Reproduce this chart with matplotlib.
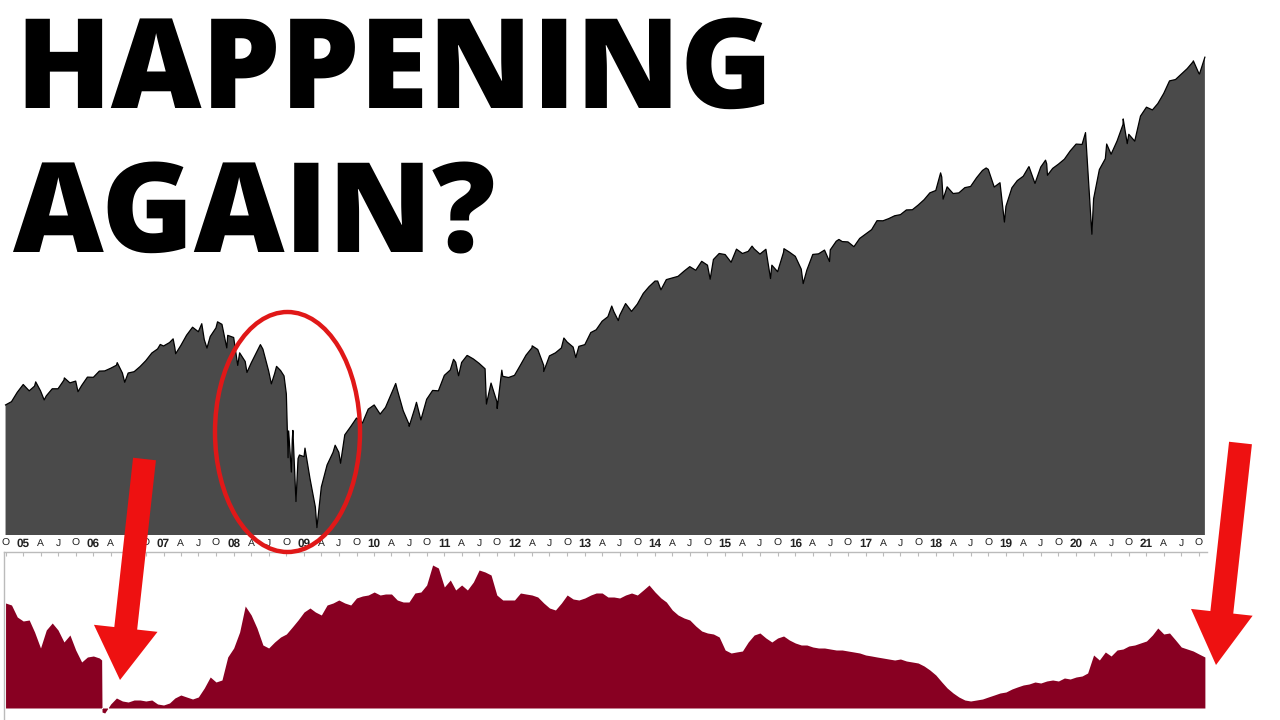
import matplotlib
matplotlib.use("Agg")
import matplotlib.pyplot as plt
from matplotlib.patches import Ellipse, FancyArrow
import pandas as pd

plt.rcParams["text.hinting"] = "no_hinting"

# S&P 500 level at the start of each month, Oct 2004 .. Nov 2021
spx_start = "2004-10-01"
spx_monthly = [
    1115, 1130, 1174,
    1212, 1181, 1204, 1181, 1157, 1191, 1191, 1234, 1220, 1229, 1207, 1249,
    1248, 1280, 1281, 1295, 1311, 1270, 1270, 1277, 1304, 1336, 1378, 1401,
    1418, 1438, 1407, 1421, 1482, 1531, 1503, 1455, 1474, 1527, 1549, 1481,
    1468, 1379, 1331, 1323, 1386, 1400, 1280, 1267, 1283, 1166, 969, 896,
    903, 826, 735, 798, 873, 919, 919, 987, 1021, 1057, 1036, 1096,
    1115, 1074, 1104, 1169, 1187, 1089, 1031, 1102, 1049, 1141, 1183, 1181,
    1258, 1286, 1327, 1326, 1364, 1345, 1321, 1292, 1219, 1131, 1253, 1247,
    1258, 1312, 1366, 1408, 1398, 1310, 1362, 1379, 1407, 1441, 1412, 1416,
    1426, 1498, 1515, 1569, 1598, 1631, 1606, 1686, 1633, 1682, 1757, 1806,
    1848, 1783, 1859, 1872, 1884, 1924, 1960, 1931, 2003, 1972, 2018, 2068,
    2059, 1995, 2105, 2068, 2086, 2107, 2063, 2104, 1972, 1920, 2079, 2080,
    2044, 1940, 1932, 2060, 2065, 2097, 2099, 2174, 2171, 2168, 2126, 2199,
    2239, 2279, 2364, 2363, 2384, 2412, 2423, 2470, 2472, 2519, 2575, 2648,
    2674, 2824, 2714, 2641, 2648, 2705, 2718, 2816, 2902, 2914, 2712, 2760,
    2507, 2704, 2784, 2834, 2946, 2752, 2942, 2980, 2926, 2977, 3038, 3141,
    3231, 3226, 2954, 2585, 2912, 3044, 3100, 3271, 3500, 3363, 3270, 3622,
    3756, 3714, 3811, 3973, 4181, 4204, 4298, 4395, 4523, 4308, 4605,
]

# swing highs / lows between month starts
spx_extra_dates = [
    "2005-03-07", "2005-04-20", "2005-08-03", "2005-10-13", "2006-05-05",
    "2006-06-13", "2006-12-15", "2007-02-20", "2007-03-05", "2007-07-19",
    "2007-08-15", "2007-10-09", "2007-11-26", "2008-01-22", "2008-03-10",
    "2008-05-19", "2008-07-15", "2008-08-11", "2008-09-19", "2008-10-10",
    "2008-10-13", "2008-10-27", "2008-11-04", "2008-11-20", "2008-12-08",
    "2009-01-06", "2009-03-09", "2009-06-12", "2009-07-10", "2010-04-23",
    "2010-07-02", "2010-08-09", "2011-02-18", "2011-03-16", "2011-04-29",
    "2011-08-08", "2011-10-03", "2011-10-27", "2012-04-02", "2012-06-01",
    "2012-09-14", "2012-11-15", "2013-05-21", "2013-06-24", "2014-01-15",
    "2014-10-15", "2015-05-21", "2015-08-25", "2015-11-03", "2016-02-11",
    "2016-06-27", "2016-08-15", "2018-01-26", "2018-02-08", "2018-09-20",
    "2018-12-24", "2019-04-30", "2019-07-26", "2019-08-05", "2020-02-19",
    "2020-03-23", "2020-06-08", "2020-09-02", "2020-09-23", "2021-09-02",
    "2021-10-04",
]
spx_extra_vals = [
    1225, 1138, 1245, 1177, 1325,
    1223, 1427, 1460, 1374, 1553,
    1406, 1565, 1407, 1310, 1273,
    1426, 1215, 1305, 1255, 899,
    1003, 848, 1005, 752, 909,
    935, 676, 946, 879, 1217,
    1022, 1127, 1343, 1256, 1364,
    1119, 1099, 1285, 1419, 1278,
    1465, 1353, 1669, 1573, 1848,
    1862, 2131, 1867, 2109, 1829,
    2001, 2190, 2873, 2581, 2931,
    2351, 2946, 3026, 2845, 3386,
    2237, 3232, 3580, 3237, 4537,
    4300,
]

# lower panel (relative line), start of each month, Oct 2004 .. Nov 2021
ratio_monthly = [
    105, 103, 91,
    87, 88, 76, 60, 78, 85, 78, 66, 73, 58, 46, 51,
    52, 50, -5, 4, 10, 7, 6, 8, 8, 7, 8, 4,
    3, 5, 10, 13, 11, 9, 11, 20, 31, 26, 28, 51,
    60, 76, 102, 93, 80, 63, 60, 66, 71, 74, 81, 88,
    96, 100, 96, 93, 103, 105, 108, 105, 103, 110, 112, 113,
    116, 113, 114, 114, 108, 106, 106, 115, 116, 123, 143, 140,
    121, 128, 118, 123, 118, 126, 138, 136, 133, 113, 108, 108,
    108, 115, 114, 113, 111, 105, 100, 98, 105, 113, 109, 108,
    110, 113, 115, 115, 111, 111, 110, 113, 115, 113, 118, 123,
    116, 110, 106, 98, 93, 90, 88, 82, 77, 75, 74, 71,
    58, 55, 56, 57, 66, 73, 75, 70, 66, 70, 72, 68,
    65, 63, 63, 61, 60, 60, 59, 58, 58, 57, 56, 55,
    53, 52, 51, 50, 49, 48, 49, 47, 46, 45, 42, 38,
    33, 26, 20, 15, 11, 8, 7, 8, 9, 11, 13, 15,
    16, 19, 21, 23, 24, 26, 25, 27, 28, 27, 30, 29,
    31, 32, 35, 53, 48, 56, 52, 58, 59, 62, 63, 65,
    67, 73, 80, 74, 75, 68, 61, 59, 57, 54, 51,
]
ratio_step_dates = ["2006-02-13", "2006-02-15"]
ratio_step_vals = [48, -4]

quarter_names = {4: "A", 7: "J", 10: "O"}

spx = pd.concat([
    pd.Series(spx_monthly, index=pd.date_range(spx_start, periods=len(spx_monthly), freq="MS")),
    pd.Series(spx_extra_vals, index=pd.to_datetime(spx_extra_dates)),
]).sort_index()

ratio = pd.concat([
    pd.Series(ratio_monthly, index=pd.date_range(spx_start, periods=len(ratio_monthly), freq="MS")),
    pd.Series(ratio_step_vals, index=pd.to_datetime(ratio_step_dates)),
]).sort_index()

xmin, xmax = pd.Timestamp("2004-09-23"), pd.Timestamp("2021-11-12")

fig = plt.figure(figsize=(12.8, 7.2), dpi=100)
W, H = 1280, 720

# top panel: price area
ax1 = fig.add_axes([4 / W, 1 - 535 / H, 1203 / W, 535 / H])
ax1.fill_between(spx.index, spx.values, 1, color="#4a4a4a", lw=0)
ax1.plot(spx.index, spx.values, color="black", lw=0.9)
ax1.set_yscale("log")
ax1.set_ylim(656, 5815)
ax1.set_xlim(xmin, xmax)
ax1.set_yticks([])
ax1.minorticks_off()
for s in ax1.spines.values():
    s.set_visible(False)

qticks = pd.date_range("2004-10-01", "2021-10-01", freq="QS-JAN")
labels = [f"{d.year % 100:02d}" if d.month == 1 else quarter_names[d.month] for d in qticks]
ax1.set_xticks(qticks)
ax1.set_xticklabels(labels, fontsize=7.5, family="Liberation Sans", color="#222222")
for d, t in zip(qticks, ax1.get_xticklabels()):
    if d.month == 1:
        t.set_fontweight("bold")
        t.set_fontsize(8.5)
ax1.tick_params(axis="x", length=0, pad=2.5)

# bottom panel: ratio area
ax2 = fig.add_axes([4 / W, 0, 1203 / W, 168 / H])
ax2.fill_between(ratio.index, ratio.values, 0, color="#880022", lw=0)
ax2.set_xlim(xmin, xmax)
ax2.set_ylim(-12, 156)
ax2.set_yticks([])
ax2.set_xticks(qticks)
ax2.xaxis.set_ticks_position("top")
ax2.tick_params(axis="x", direction="in", length=3, color="#bbbbbb", labeltop=False, labelbottom=False)
for k in ("right", "bottom"):
    ax2.spines[k].set_visible(False)
for k in ("top", "left"):
    ax2.spines[k].set_color("#bbbbbb")
    ax2.spines[k].set_linewidth(1)

# overlay for title and markup, in pixel units
ov = fig.add_axes([0, 0, 1, 1], facecolor="none")
ov.set_xlim(0, W)
ov.set_ylim(H, 0)
ov.axis("off")

title_font = dict(fontsize=90, fontweight="extra bold", family="Open Sans",
                  color="black", va="baseline", ha="left")
ov.text(15, 108, "HAPPENING", **title_font)
ov.text(13, 252, "AGAIN?", **title_font)

red = "#ee1111"
ov.add_patch(Ellipse((287.5, 432), 145, 240, fill=False, ec="#e01818", lw=3.2))
ov.add_patch(FancyArrow(144.5, 459, -24.5, 221, width=23, head_width=64, head_length=52,
                        length_includes_head=True, color=red, lw=0))
ov.add_patch(FancyArrow(1240.5, 443, -24.5, 222, width=23, head_width=62, head_length=53,
                        length_includes_head=True, color=red, lw=0))

fig.savefig("out.png", dpi=100)
